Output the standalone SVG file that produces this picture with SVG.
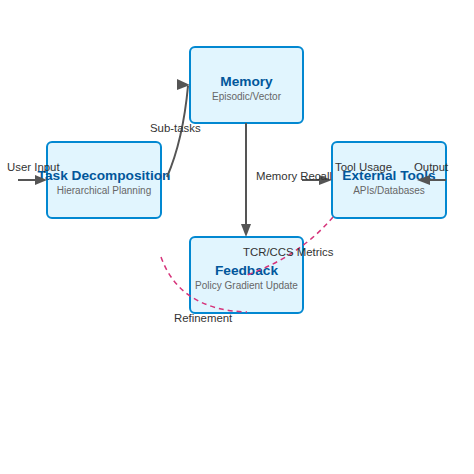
<svg xmlns="http://www.w3.org/2000/svg" width="474" height="474" viewBox="0 0 474 474">
<style>
.box{fill:#e1f5fe;stroke:#0288d1;stroke-width:2}
.t{font-family:"Liberation Sans",Arial,sans-serif;font-size:13.7px;font-weight:bold;fill:#01579b;text-anchor:middle}
.s{font-family:"Liberation Sans",Arial,sans-serif;font-size:10px;fill:#666;text-anchor:middle}
.l{font-family:"Liberation Sans",Arial,sans-serif;font-size:11.4px;fill:#333}
.e{fill:none;stroke:#555;stroke-width:2}
.d{fill:none;stroke:#d6337a;stroke-width:1.5;stroke-dasharray:5,4}
.ah{fill:#555}
</style>
<rect width="474" height="474" fill="#fff"/>
<g id="task">
<rect class="box" x="47" y="142" width="114" height="76" rx="5"/>
<text class="t" x="104" y="180">Task Decomposition</text>
<text class="s" x="104" y="194">Hierarchical Planning</text>
</g>
<g id="memory">
<rect class="box" x="190" y="47" width="113" height="76" rx="5"/>
<text class="t" x="246.5" y="86">Memory</text>
<text class="s" x="246.5" y="100">Episodic/Vector</text>
</g>
<g id="tools">
<rect class="box" x="332" y="142" width="114" height="76" rx="5"/>
<text class="t" x="389" y="180">External Tools</text>
<text class="s" x="389" y="194">APIs/Databases</text>
</g>
<g id="feedback">
<rect class="box" x="190" y="237" width="113" height="76" rx="5"/>
<text class="t" x="246.5" y="275">Feedback</text>
<text class="s" x="246.5" y="289">Policy Gradient Update</text>
</g>
<g id="connectors">
<line class="e" x1="18" y1="180" x2="36" y2="180"/>
<polygon class="ah" points="47,180 35,175 35,185"/>
<path class="e" d="M167,177 Q183,140 188,86"/>
<polygon class="ah" points="190,85 177,79 177,90"/>
<line class="e" x1="246" y1="123" x2="246" y2="225"/>
<polygon class="ah" points="246,237 241,224 251,224"/>
<line class="e" x1="302" y1="180" x2="320" y2="180"/>
<polygon class="ah" points="332,180 319,175 319,185"/>
<line class="e" x1="446" y1="180" x2="428" y2="180"/>
<polygon class="ah" points="417,180 430,175 430,185"/>
<path class="d" d="M333,217 Q300,256 247,275"/>
<path class="d" d="M161,257 Q180,310 247,312"/>
<text class="l" x="7" y="171">User Input</text>
<text class="l" x="150" y="132">Sub-tasks</text>
<text class="l" x="256" y="180">Memory Recall</text>
<text class="l" x="335" y="171">Tool Usage</text>
<text class="l" x="414" y="171">Output</text>
<text class="l" x="243" y="256">TCR/CCS Metrics</text>
<text class="l" x="174" y="322">Refinement</text>
</g>
</svg>
